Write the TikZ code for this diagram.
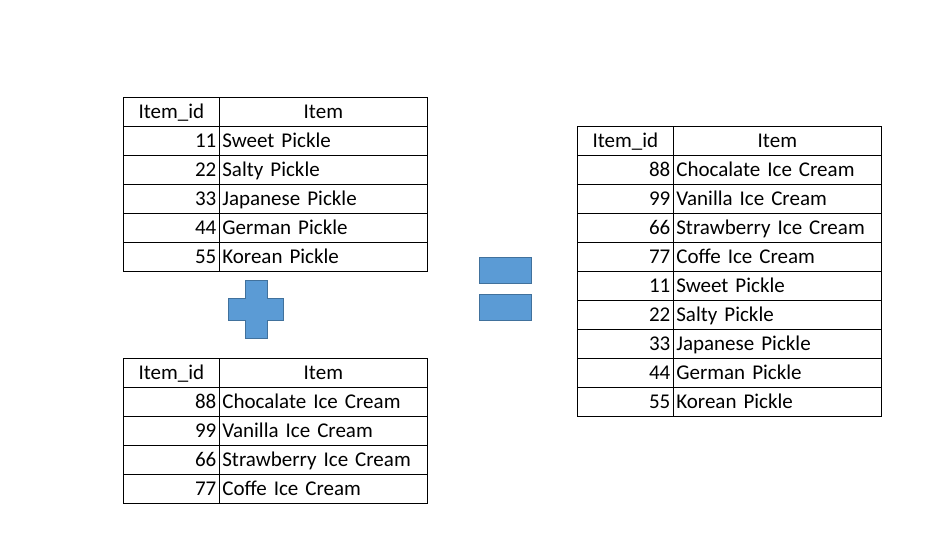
\documentclass[tikz,border=0pt]{standalone}
\usepackage{fontspec}
\setmainfont{Carlito}[WordSpace=0.8]
\usetikzlibrary{positioning}
\definecolor{shapefill}{HTML}{5B9BD5}
\definecolor{shapeline}{HTML}{41719C}
\tikzset{cellid/.style={draw=black, line width=0.7pt, minimum width=96pt, minimum height=29pt, inner sep=2pt, text height=16pt, text depth=2pt, anchor=north west, font=\fontsize{21}{22}\selectfont}}
\tikzset{cellitem/.style={cellid, minimum width=208pt}}
\tikzset{sign/.style={fill=shapefill, draw=shapeline, line width=1pt}}
\begin{document}
\begin{tikzpicture}[x=1pt, y=-1pt]
                        \useasboundingbox (0,0) rectangle (927,552);
                        % pickles
                        \node[cellid] (ph) at (123,97) {Item\_id};
                        \node[cellitem] (phi) at (219,97) {Item};
                        \foreach \n/\id/\it in {1/11/Sweet Pickle, 2/22/Salty Pickle, 3/33/Japanese Pickle, 4/44/German Pickle, 5/55/Korean Pickle}
                        {
                        \node[cellid, align=right, text width=90pt] (p\n) at (123,97+29*\n) {\id};
                        \node[cellitem, align=left, text width=202pt] (pi\n) at (219,97+29*\n) {\it};
                        }
                        % ice creams
                        \node[cellid] (ih) at (123,358) {Item\_id};
                        \node[cellitem] (ihi) at (219,358) {Item};
                        \foreach \n/\id/\it in {1/88/Chocalate Ice Cream, 2/99/Vanilla Ice Cream, 3/66/Strawberry Ice Cream, 4/77/Coffe Ice Cream}
                        {
                        \node[cellid, align=right, text width=90pt] (i\n) at (123,358+29*\n) {\id};
                        \node[cellitem, align=left, text width=202pt] (ii\n) at (219,358+29*\n) {\it};
                        }
                        % union
                        \node[cellid] (uh) at (577,126) {Item\_id};
                        \node[cellitem] (uhi) at (673,126) {Item};
                        \foreach \n/\id/\it in {1/88/Chocalate Ice Cream, 2/99/Vanilla Ice Cream, 3/66/Strawberry Ice Cream, 4/77/Coffe Ice Cream, 5/11/Sweet Pickle, 6/22/Salty Pickle, 7/33/Japanese Pickle, 8/44/German Pickle, 9/55/Korean Pickle}
                        {
                        \node[cellid, align=right, text width=90pt] (u\n) at (577,126+29*\n) {\id};
                        \node[cellitem, align=left, text width=202pt] (ui\n) at (673,126+29*\n) {\it};
                        }
                        % plus and equals
                        \draw[sign] (245,280) -- (267,280) -- (267,298) -- (283,298) -- (283,320) -- (267,320) -- (267,338) -- (245,338) -- (245,320) -- (228,320) -- (228,298) -- (245,298) -- cycle;
                        \draw[sign] (479,257) rectangle (531,283);
                        \draw[sign] (479,294) rectangle (531,320);
                    \end{tikzpicture}
\end{document}
